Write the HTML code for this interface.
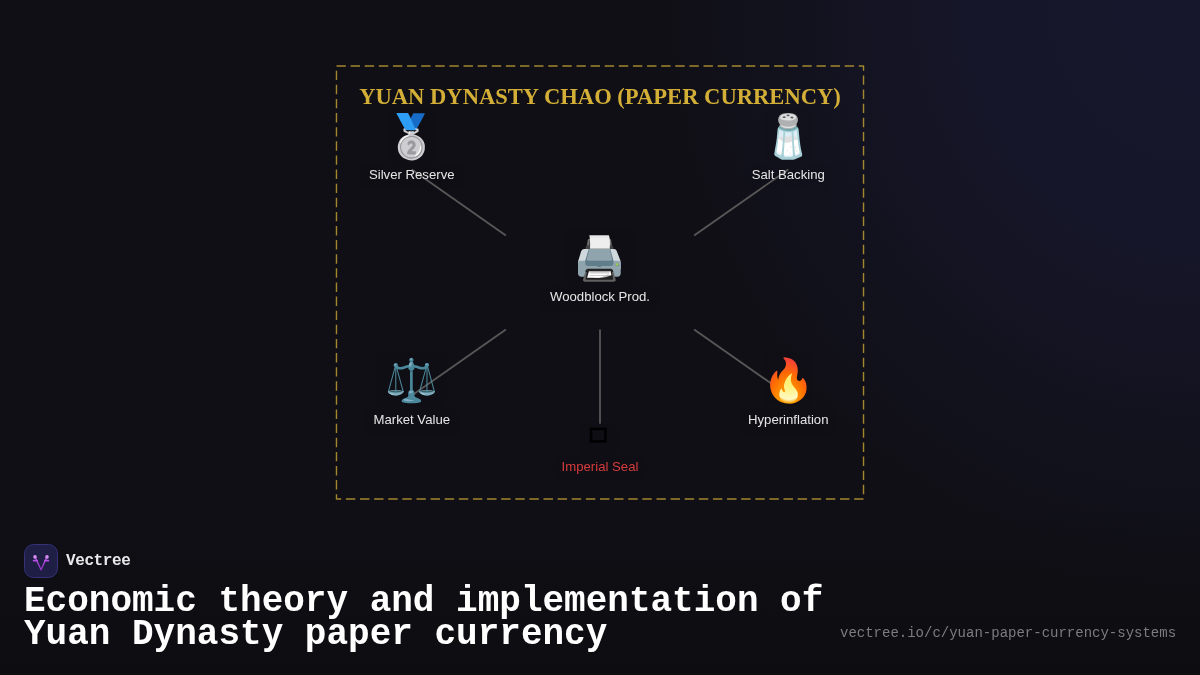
<!DOCTYPE html>
<html>
<head>
<meta charset="utf-8">
<style>
html,body{margin:0;padding:0;}
body{width:1200px;height:675px;overflow:hidden;position:relative;background:#111116;font-family:"Liberation Sans",sans-serif;}
.bg{position:absolute;left:0;top:0;width:1200px;height:675px;
  background:
    linear-gradient(180deg, rgba(8,8,11,0) 0%, rgba(8,8,11,0) 74%, rgba(8,8,11,0.35) 100%),
    radial-gradient(ellipse 560px 600px at 1200px 0px, rgba(72,90,238,0.105) 0%, rgba(72,90,238,0.09) 42%, rgba(72,90,238,0.045) 72%, rgba(72,90,238,0) 100%),
    #100f15;}
svg.ov{position:absolute;left:0;top:0;will-change:transform;}
.bname{will-change:transform;position:absolute;left:66px;top:551px;font-family:"Liberation Mono",monospace;font-weight:bold;font-size:16px;line-height:20px;color:#e8e8ea;letter-spacing:-0.4px;}
.big{will-change:transform;position:absolute;left:24px;top:585px;font-family:"Liberation Mono",monospace;font-weight:bold;font-size:36px;line-height:33px;color:#ffffff;white-space:nowrap;}
.url{will-change:transform;position:absolute;right:24px;top:624px;font-family:"Liberation Mono",monospace;font-size:14px;line-height:18px;color:#7c7c80;white-space:nowrap;}
</style>
</head>
<body>
<div class="bg"></div>
<svg class="ov" width="1200" height="675" viewBox="0 0 1200 675">
  <g fill="#000" fill-opacity="0.035"><rect x="387" y="108.5" width="50" height="54.0" rx="6" /><rect x="764" y="108.5" width="49" height="54.0" rx="6" /><rect x="564.5" y="228.5" width="70.5" height="56.5" rx="6" /><rect x="376.5" y="351" width="70.5" height="56.5" rx="6" /><rect x="764" y="351" width="49" height="54.5" rx="6" /><rect x="578.4" y="424.4" width="39.2" height="30.6" rx="6" /><rect x="360" y="164.8" width="104" height="25.2" rx="6" /><rect x="746" y="164.8" width="85" height="25.2" rx="6" /><rect x="541" y="286.7" width="117" height="25.3" rx="6" /><rect x="365" y="409.5" width="93" height="25.0" rx="6" /><rect x="740" y="409.5" width="97" height="25.0" rx="6" /><rect x="553" y="456" width="94" height="24" rx="6" /></g>
  <g transform="translate(317.647 47.176) scale(0.941176)">
  <rect x="20" y="20" width="560" height="460" fill="none" stroke="#d4af37" stroke-opacity="0.75" stroke-width="1.5" stroke-dasharray="10 5" stroke-linejoin="round"/>
  <g stroke="#585858" stroke-width="1.9" fill="none">
    <line x1="200" y1="200" x2="100" y2="130"/>
    <line x1="400" y1="200" x2="500" y2="130"/>
    <line x1="200" y1="300" x2="100" y2="370"/>
    <line x1="300" y1="300" x2="300" y2="400"/>
    <line x1="400" y1="300" x2="500" y2="370"/>
  </g>
  <text x="300" y="60" text-anchor="middle" font-family="Liberation Serif" font-weight="bold" font-size="24" fill="#d4af37">YUAN DYNASTY CHAO (PAPER CURRENCY)</text>
  <g font-size="45" text-anchor="middle">
    <text x="100" y="110">🥈</text>
    <text x="500" y="110">🧂</text>
    <text x="300" y="240">🖨️</text>
    <text x="100" y="370">⚖️</text>
    <text x="500" y="370">🔥</text>
  </g>
  <rect x="290.45" y="405.6" width="15.3" height="13.3" fill="none" stroke="#000" stroke-width="2.76"/>
  <g font-family="Liberation Sans" font-size="14" text-anchor="middle" fill="#e6e6e6">
    <text x="100" y="140">Silver Reserve</text>
    <text x="500" y="140">Salt Backing</text>
    <text x="300" y="270">Woodblock Prod.</text>
    <text x="100" y="400">Market Value</text>
    <text x="500" y="400">Hyperinflation</text>
    <text x="300" y="450" fill="#d63c3c">Imperial Seal</text>
  </g>
</g></svg>
<svg style="position:absolute;left:24px;top:544px" width="34" height="34" viewBox="0 0 34 34">
  <defs><linearGradient id="vg" x1="0" y1="0" x2="0" y2="1"><stop offset="0" stop-color="#c25ef0"/><stop offset="1" stop-color="#9230c8"/></linearGradient></defs>
  <rect x="0.5" y="0.5" width="33" height="33" rx="9" fill="#1f1e44" stroke="#33327a" stroke-width="1"/>
  <g stroke="url(#vg)" stroke-width="1.3" fill="none" stroke-linecap="round">
    <path d="M17 25.8 L11 12.8 M17 25.8 L23 12.8"/>
  </g>
  <path d="M13.2 16.6 L9.6 16.6 M20.8 16.6 L24.4 16.6" stroke="#b64ee6" stroke-width="1.7" stroke-linecap="round" fill="none"/>
  <circle cx="11" cy="12.9" r="1.8" fill="#d58cf2"/>
  <circle cx="23" cy="12.9" r="1.8" fill="#d58cf2"/>
</svg>
<div class="bname">Vectree</div>
<div class="big">Economic theory and implementation of<br>Yuan Dynasty paper currency</div>
<div class="url">vectree.io/c/yuan-paper-currency-systems</div>
</body>
</html>
